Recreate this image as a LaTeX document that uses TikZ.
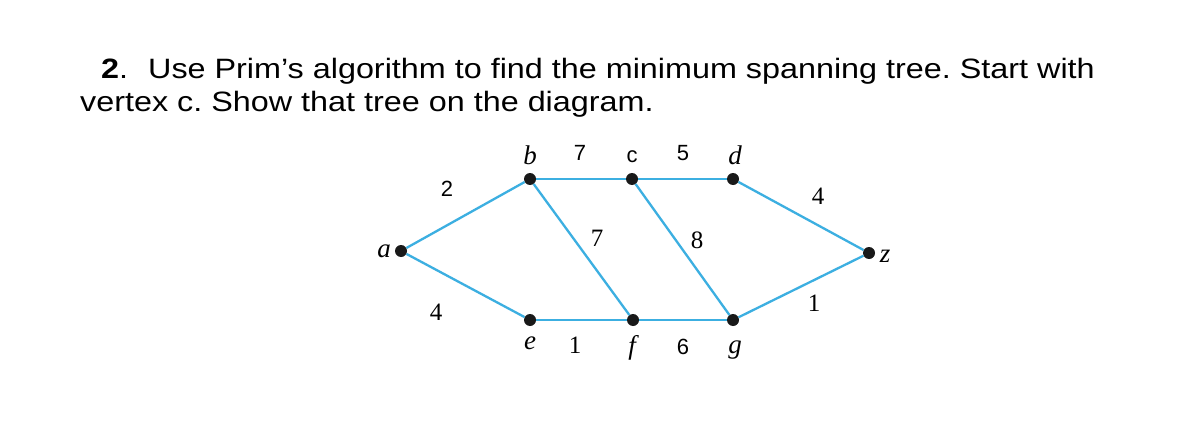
\documentclass[tikz,border=0pt]{standalone}
\usepackage{fontspec}
\setmainfont{Liberation Serif}
\newfontfamily\arialfont{Liberation Sans}
\newfontfamily\titlefont{Liberation Sans}[FakeStretch=1.155]
\usetikzlibrary{positioning}
\definecolor{linkblue}{RGB}{60,175,225}
\frenchspacing

\begin{document}
\begin{tikzpicture}[x=1pt,y=-1pt,
        vtx/.style={circle,fill=black!90,inner sep=0pt,minimum size=12pt},
        link/.style={draw=linkblue,line width=2.3pt},
        vlab/.style={font=\fontsize{27}{27}\selectfont\itshape,inner sep=0pt},
        wserif/.style={font=\fontsize{25}{25}\selectfont,inner sep=0pt},
        wsans/.style={font=\arialfont\fontsize{22}{22}\selectfont,inner sep=0pt},
        title/.style={font=\titlefont\fontsize{28}{28}\selectfont,anchor=base west,inner sep=0pt}
    ]
    \useasboundingbox[fill=white] (0,0) rectangle (1192,444);

    % question text
    \node[title] (q1) at (101,78) {\textbf{2}.\hspace{20pt}Use Prim’s algorithm to find the minimum spanning tree. Start with};
    \node[title] (q2) at (80,111) {vertex c. Show that tree on the diagram.};

    % vertices
    \node[vtx] (a) at (401,251) {};
    \node[vtx] (b) at (530,179) {};
    \node[vtx] (c) at (632,179) {};
    \node[vtx] (d) at (733,179) {};
    \node[vtx] (z) at (869,253) {};
    \node[vtx] (e) at (530,320) {};
    \node[vtx] (f) at (633,320) {};
    \node[vtx] (g) at (733,320) {};

    % edges
    \draw[link] (a) -- (b);
    \draw[link] (a) -- (e);
    \draw[link] (b) -- (c);
    \draw[link] (c) -- (d);
    \draw[link] (b) -- (f);
    \draw[link] (c) -- (g);
    \draw[link] (e) -- (f);
    \draw[link] (f) -- (g);
    \draw[link] (d) -- (z);
    \draw[link] (g) -- (z);

    % vertex names
    \node[vlab] (la) at (384,251) {a};
    \node[vlab] (lb) at (530,155) {b};
    \node[wsans] (lc) at (632,157) {c};
    \node[vlab] (ld) at (735,155) {d};
    \node[vlab] (lz) at (885,256) {z};
    \node[vlab] (le) at (530,343) {e};
    \node[vlab] (lf) at (632,348) {f};
    \node[vlab] (lg) at (735,350) {g};

    % weights
    \node[wsans] (wbc) at (580,153) {7};
    \node[wsans] (wcd) at (683,153) {5};
    \node[wsans] (wab) at (447,189) {2};
    \node[wserif] (wdz) at (818,196) {4};
    \node[wserif] (wbf) at (597,238) {7};
    \node[wserif] (wcg) at (697,240) {8};
    \node[wserif] (wae) at (436,312) {4};
    \node[wserif] (wgz) at (814,303) {1};
    \node[wserif] (wef) at (575,345) {1};
    \node[wsans] (wfg) at (683,347) {6};
\end{tikzpicture}
\end{document}
